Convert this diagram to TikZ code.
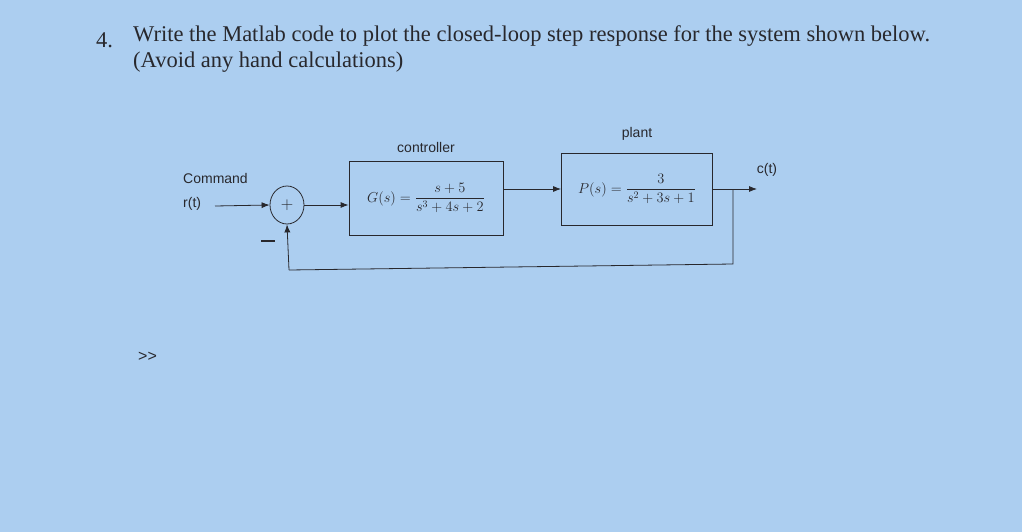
\documentclass[tikz,border=0pt]{standalone}
\usepackage{amsmath}
\usepackage{fontspec}
\setmainfont{Liberation Serif}
\newfontfamily\labelfont{Liberation Sans}
\usetikzlibrary{positioning, arrows.meta, shapes.geometric}
\definecolor{paper}{RGB}{172,206,240}
\definecolor{ink}{RGB}{40,40,45}
\tikzset{
	block/.style={draw=ink, thick, text=ink, minimum width=154pt, minimum height=74pt, inner sep=0pt, font=\fontsize{14}{16}\selectfont},
	lbl/.style={font=\labelfont\fontsize{14}{16}\selectfont, text=ink, inner sep=0pt},
	sig/.style={draw=ink, thick, -{Latex[length=8pt,width=6pt]}},
	wire/.style={draw=ink, thick},
	qtext/.style={font=\fontsize{22.5}{26}\selectfont, text=ink, anchor=west, inner sep=0pt}
}
\begin{document}
\begin{tikzpicture}[x=1pt, y=-1pt]
	\fill[paper] (0,0) rectangle (1022,532); % background paper
	\useasboundingbox (0,0) rectangle (1022,532);
	
	% question text
	\node[qtext] (num) at (96,40) {4.};
	\node[qtext] (q1) at (133,36) {Write the Matlab code to plot the closed-loop step response for the system shown below.};
	\node[qtext] (q2) at (133,62) {(Avoid any hand calculations)};
	
	% blocks
	\node[draw=ink, thick, ellipse, minimum width=34pt, minimum height=38pt, inner sep=0pt, text=ink] (sum) at (287,205) {\LARGE$+$};
	\node[block] (ctrl) at (426,198) {$G(s)=\dfrac{s+5}{s^3+4s+2}$};
	\node[block, minimum width=151pt, minimum height=72pt] (plant) at (637,189) {$P(s)=\dfrac{3}{s^2+3s+1}$};
	\node[lbl, above=8pt of ctrl] (ctrllbl) {controller};
	\node[lbl, above=12pt of plant] (plantlbl) {plant};
	
	% signals
	\node[lbl, anchor=west] (cmd) at (183,178) {Command};
	\node[lbl, anchor=west] (r) at (183,204) {r(t)};
	\coordinate (rin) at (215,206);
	\coordinate (split) at (733,189);
	\coordinate (cout) at (757,189);
	\node[lbl] (c) at (767,170) {c(t)};
	\node[lbl] (minus) at (268,241) {\rule{14pt}{1.2pt}};
	\coordinate (fb1) at (733,264);
	\coordinate (fb2) at (289,270);
	
	\draw[sig] (rin) -- (sum.west);
	\draw[sig] (sum.east) -- (ctrl.west |- sum.east);
	\draw[sig] (ctrl.east |- plant) -- (plant.west);
	\draw[sig] (plant.east) -- (cout);
	\draw[wire] (split) -- (fb1) -- (fb2);
	\draw[sig] (fb2) -- (sum.south);
	
	\node[lbl, anchor=west, font=\labelfont\fontsize{16}{18}\selectfont] (prompt) at (138,357) {{>}{>}};
\end{tikzpicture}
\end{document}
